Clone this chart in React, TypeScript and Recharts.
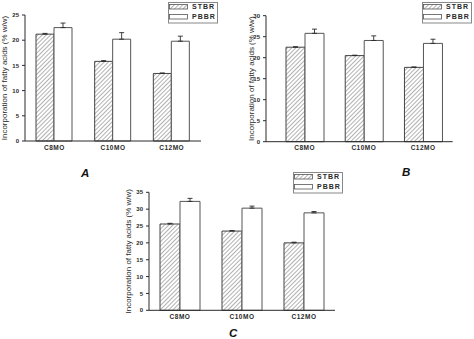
import React from "react";
import { BarChart, Bar, XAxis, YAxis, ErrorBar, Legend } from "recharts";

const categories = ["C8MO", "C10MO", "C12MO"];

const stbrA = [21.2, 15.8, 13.4];
const stbrErrA = [0.15, 0.15, 0.1];
const pbbrA = [22.5, 20.2, 19.8];
const pbbrErrA = [0.9, 1.3, 1.0];

const stbrB = [22.5, 20.5, 17.7];
const stbrErrB = [0.1, 0.1, 0.1];
const pbbrB = [25.8, 24.1, 23.4];
const pbbrErrB = [1.0, 1.1, 1.0];

const stbrC = [25.6, 23.5, 20.0];
const stbrErrC = [0.2, 0.15, 0.2];
const pbbrC = [32.3, 30.3, 28.9];
const pbbrErrC = [0.9, 0.6, 0.4];

const ticksA = [0, 5, 10, 15, 20, 25];
const ticksB = [0, 5, 10, 15, 20, 25, 30];
const ticksC = [0, 5, 10, 15, 20, 25, 30, 35];

const seriesNames = ["STBR", "PBBR"];
const yTitle = "Incorporation of fatty acids (% w/w)";

const FONT = "'Liberation Sans', Arial, sans-serif";
const INK = "#2a2a2a";

function buildRows(stbr: number[], stbrErr: number[], pbbr: number[], pbbrErr: number[]) {
  return categories.map((name, i) => ({
    name,
    stbr: stbr[i],
    pbbr: pbbr[i],
    stbrErr: [0, stbrErr[i]],
    pbbrErr: [0, pbbrErr[i]],
  }));
}

function LegendBox({ id }: { id: string }) {
  return (
    <svg width={50} height={22} style={{ display: "block" }}>
      <defs>
        <pattern id={`lg-${id}`} patternUnits="userSpaceOnUse" width={3} height={3} patternTransform="rotate(45)">
          <line x1={0} y1={0} x2={0} y2={3} stroke="#555" strokeWidth={0.9} />
        </pattern>
      </defs>
      <rect x={0.5} y={0.5} width={49} height={20.5} fill="#fff" stroke="#888" />
      <rect x={1.5} y={2.5} width={18} height={4.5} fill={`url(#lg-${id})`} stroke="#555" strokeWidth={0.8} />
      <rect x={1.5} y={12.5} width={18} height={4.5} fill="#fff" stroke="#555" strokeWidth={0.8} />
      <text x={24} y={7.2} fontSize={7} fontWeight="bold" letterSpacing={1} fill={INK} fontFamily={FONT}>
        {seriesNames[0]}
      </text>
      <text x={24} y={17.2} fontSize={7} fontWeight="bold" letterSpacing={1} fill={INK} fontFamily={FONT}>
        {seriesNames[1]}
      </text>
    </svg>
  );
}

interface PanelProps {
  id: string;
  rows: ReturnType<typeof buildRows>;
  ticks: number[];
  left: number;
  top: number;
  width: number;
  height: number;
  margin: { top: number; right: number; bottom: number; left: number };
  padLeft: number;
  titleDx: number;
  legendPos: { left: number; top: number };
}

function Panel({ id, rows, ticks, left, top, width, height, margin, padLeft, titleDx, legendPos }: PanelProps) {
  const renderTitle = (props: any) => {
    const vb = props.viewBox || {};
    const cx = vb.x + titleDx;
    const cy = vb.y + vb.height / 2;
    return (
      <text
        x={cx}
        y={cy}
        transform={`rotate(-90 ${cx} ${cy})`}
        textAnchor="middle"
        dominantBaseline="central"
        fontSize={8}
        fill={INK}
        fontFamily={FONT}
      >
        {yTitle}
      </text>
    );
  };

  return (
    <div style={{ position: "absolute", left, top }}>
      <BarChart
        width={width}
        height={height}
        data={rows}
        margin={margin}
        barCategoryGap={11}
        barGap={0}
      >
        <defs>
          <pattern id={`hatch-${id}`} patternUnits="userSpaceOnUse" width={3} height={3} patternTransform="rotate(45)">
            <line x1={0} y1={0} x2={0} y2={3} stroke="#555" strokeWidth={0.9} />
          </pattern>
        </defs>
        <XAxis
          dataKey="name"
          padding={{ left: padLeft, right: 0 }}
          stroke={INK}
          tickLine={false}
          tickSize={2}
          tickMargin={2}
          height={14}
          tick={{ fontSize: 6.5, fontWeight: "bold", fill: INK, fontFamily: FONT, letterSpacing: 0.5 }}
        />
        <YAxis
          domain={[0, ticks[ticks.length - 1]]}
          ticks={ticks}
          width={20}
          stroke={INK}
          tickSize={3}
          tickMargin={3}
          tick={{ fontSize: 6, fontWeight: "bold", fill: INK, fontFamily: FONT }}
          label={renderTitle}
        />
        <Legend
          layout="vertical"
          align="center"
          verticalAlign="middle"
          wrapperStyle={{ position: "absolute", left: legendPos.left, top: legendPos.top, width: 50 }}
          content={() => <LegendBox id={id} />}
        />
        <Bar dataKey="stbr" name={seriesNames[0]} fill={`url(#hatch-${id})`} stroke="#444" strokeWidth={1} isAnimationActive={false}>
          <ErrorBar dataKey="stbrErr" direction="y" width={2.5} stroke={INK} strokeWidth={0.9} />
        </Bar>
        <Bar dataKey="pbbr" name={seriesNames[1]} fill="#fff" stroke="#555" strokeWidth={1} isAnimationActive={false}>
          <ErrorBar dataKey="pbbrErr" direction="y" width={2.5} stroke={INK} strokeWidth={0.9} />
        </Bar>
      </BarChart>
    </div>
  );
}

const letterStyle: React.CSSProperties = {
  position: "absolute",
  fontFamily: FONT,
  fontWeight: "bold",
  fontStyle: "italic",
  fontSize: 11.5,
  color: "#111",
  lineHeight: 1,
};

export default function App() {
  return (
    <div style={{ position: "absolute", left: 0, top: 0, width: 474, height: 339, background: "#fff", overflow: "hidden" }}>
      <Panel
        id="a"
        rows={buildRows(stbrA, stbrErrA, pbbrA, pbbrErrA)}
        ticks={ticksA}
        left={0}
        top={0}
        width={240}
        height={180}
        margin={{ top: 15, right: 39, bottom: 25, left: 5 }}
        padLeft={0}
        titleDx={-0.8}
        legendPos={{ left: 168, top: 2 }}
      />
      <Panel
        id="b"
        rows={buildRows(stbrB, stbrErrB, pbbrB, pbbrErrB)}
        ticks={ticksB}
        left={237}
        top={0}
        width={237}
        height={180}
        margin={{ top: 15.7, right: 21.3, bottom: 24.3, left: 9 }}
        padLeft={9}
        titleDx={5.5}
        legendPos={{ left: 185, top: 2 }}
      />
      <Panel
        id="c"
        rows={buildRows(stbrC, stbrErrC, pbbrC, pbbrErrC)}
        ticks={ticksC}
        left={110}
        top={160}
        width={260}
        height={179}
        margin={{ top: 32.3, right: 35, bottom: 14.7, left: 19 }}
        padLeft={0}
        titleDx={-0.7}
        legendPos={{ left: 183, top: 12 }}
      />
      <div style={{ ...letterStyle, left: 81, top: 168 }}>A</div>
      <div style={{ ...letterStyle, left: 402, top: 167 }}>B</div>
      <div style={{ ...letterStyle, left: 229, top: 328 }}>C</div>
    </div>
  );
}
